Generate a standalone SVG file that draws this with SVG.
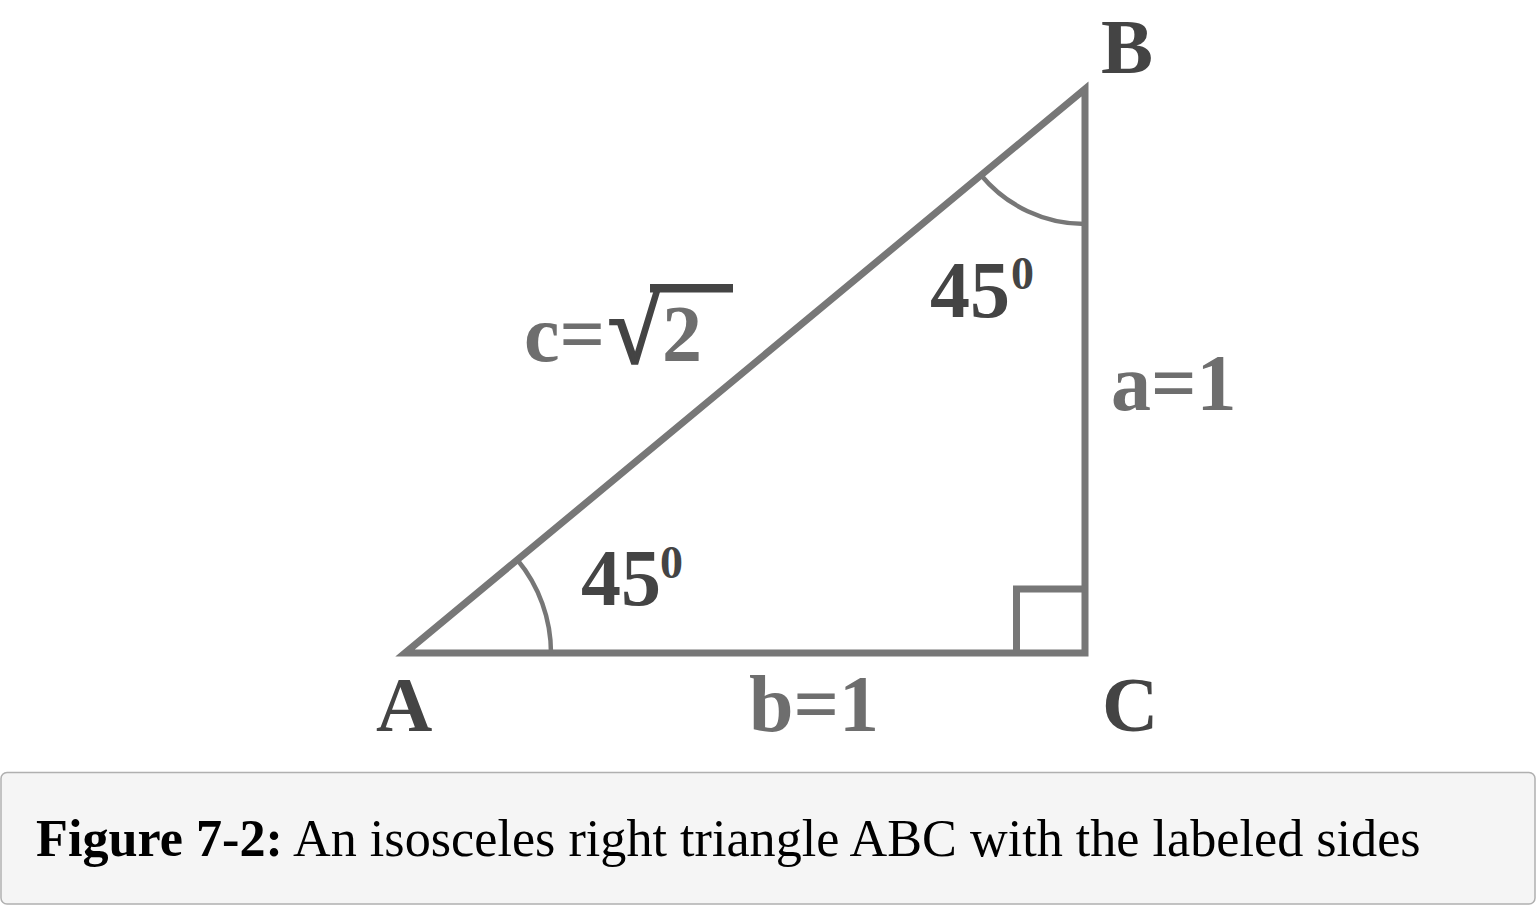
<svg xmlns="http://www.w3.org/2000/svg" width="1536" height="905" viewBox="0 0 1536 905">
<style>
.lbl{font-family:"Liberation Serif","Times New Roman",serif;font-weight:bold;}
.dark{fill:#444444;}
.gray{fill:#6e6e6e;}
.edge{fill:none;stroke:#777777;stroke-width:7;}
.arc{fill:none;stroke:#777777;stroke-width:4.5;}
.cap{font-family:"Liberation Serif","Times New Roman",serif;font-size:52.2px;fill:#000000;}
</style>
<rect x="0" y="0" width="1536" height="905" fill="#ffffff"/>
<g id="triangle">
<polygon class="edge" points="405,653 1085,89 1085,653" stroke-linejoin="miter" stroke-miterlimit="10"/>
<polyline class="edge" points="1016.5,653 1016.5,589 1085,589" stroke-linejoin="miter"/>
<path class="arc" d="M551,653 A146,146 0 0 0 517.3,559.7"/>
<path class="arc" d="M981.1,175.2 A135,135 0 0 0 1085,224"/>
</g>
<g id="vertex-labels">
<text class="lbl dark" x="1101" y="73" font-size="78">B</text>
<text class="lbl dark" x="376" y="731" font-size="78">A</text>
<text class="lbl dark" x="1102" y="731" font-size="78">C</text>
</g>
<g id="angle-labels">
<text class="lbl dark" x="930" y="317" font-size="80">45</text>
<text class="lbl dark" x="1011" y="289" font-size="46">0</text>
<text class="lbl dark" x="581" y="605" font-size="80">45</text>
<text class="lbl dark" x="660" y="578" font-size="46">0</text>
</g>
<g id="side-labels">
<text class="lbl gray" x="524" y="361" font-size="80">c=</text>
<g transform="translate(608,363) scale(1.2,1.22)">
<text class="lbl dark" x="0" y="0" font-size="80" stroke="#444444" stroke-width="2">√</text>
</g>
<rect x="650" y="284" width="83" height="8.5" fill="#444444"/>
<text class="lbl gray" x="662" y="361" font-size="80">2</text>
<text class="lbl gray" x="1111" y="410" font-size="80">a=1</text>
<text class="lbl gray" x="749" y="731" font-size="80">b=1</text>
</g>
<g id="caption">
<rect x="1" y="772.5" width="1534" height="131.5" rx="6" ry="6" fill="#f5f5f5" stroke="#b0b0b0" stroke-width="1.5"/>
<text class="cap" x="36" y="856"><tspan font-weight="bold">Figure 7-2:</tspan> An isosceles right triangle ABC with the labeled sides</text>
</g>
</svg>
